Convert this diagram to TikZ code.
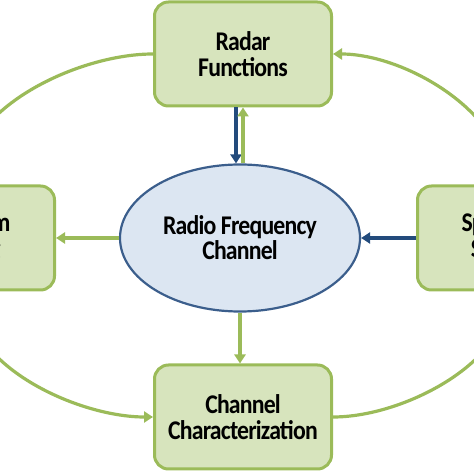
\documentclass[tikz,border=0pt]{standalone}
\usepackage{fontspec}
\setmainfont{Carlito}[LetterSpace=-3,FakeStretch=0.88]
\usetikzlibrary{arrows.meta,shapes.geometric}
\definecolor{boxfill}{HTML}{D7E4BD}
\definecolor{boxline}{HTML}{9BBB59}
\definecolor{ellfill}{HTML}{DCE6F2}
\definecolor{ellline}{HTML}{3B5E8C}
\definecolor{darkblue}{HTML}{234B7C}
\begin{document}
\begin{tikzpicture}[x=1pt,y=1pt,
  box/.style={draw=boxline, fill=boxfill, line width=3pt, rounded corners=14pt,
    minimum width=177pt, minimum height=104pt, align=center, inner sep=0pt,
    font=\fontsize{27}{25.5}\selectfont\bfseries},
  rfell/.style={ellipse, draw=ellline, fill=ellfill, line width=2.2pt,
    minimum width=240pt, minimum height=147pt, align=center, inner sep=0pt,
    font=\fontsize{27}{25}\selectfont\bfseries},
  garrow/.style={draw=boxline, line width=3.2pt, -{Triangle[length=9pt,width=11pt]}},
  barrow/.style={draw=darkblue, line width=3.2pt, -{Triangle[length=9pt,width=11pt]}}]
\useasboundingbox (0,0) rectangle (474,474);
\clip (0,0) rectangle (474,474);
\node[box] (top) at (243,420) {Radar\\Functions};
\node[box] (bot) at (243,57) {Channel\\Characterization};
\node[box] (left) at (-34,236) {Spectrum\\Sharing};
\node[box] (right) at (506,236) {Spectrum\\Sensing};
\node[rfell] (rf) at (240,236) {Radio Frequency\\Channel};
\draw[barrow] ([xshift=-7pt]top.south) -- ([xshift=-7pt]top.south |- rf.north);
\draw[garrow] (top.south |- rf.north) -- (top.south);
\draw[garrow] (rf.south) -- (rf.south |- bot.north);
\draw[garrow] (rf.west) -- (left.east);
\draw[barrow] (right.west) -- (rf.east);
\draw[garrow] (top.west) to[out=180,in=90,looseness=0.85] (left.north);
\draw[garrow] (right.north) to[out=90,in=0,looseness=0.85] (top.east);
\draw[garrow] (left.south) to[out=-90,in=180,looseness=0.85] (bot.west);
\draw[garrow] (bot.east) to[out=0,in=-90,looseness=0.85] (right.south);
\end{tikzpicture}
\end{document}
